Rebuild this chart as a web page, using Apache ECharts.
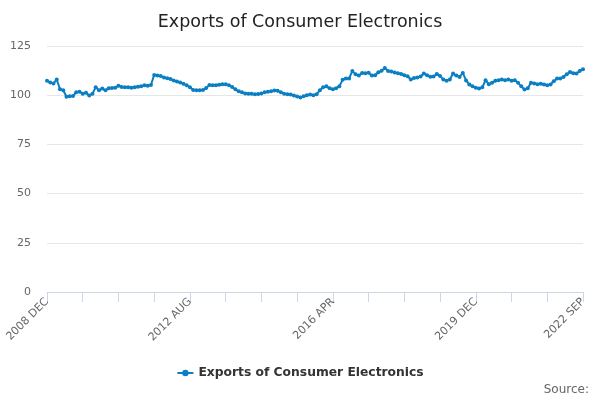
<!DOCTYPE html>
<html>
<head>
<meta charset="utf-8">
<script src="https://cdn.jsdelivr.net/npm/echarts@6/dist/echarts.min.js"></script>
<style>
  html, body { margin: 0; padding: 0; background: #fff; }
  #main { width: 600px; height: 400px; }
</style>
</head>
<body>
<div id="main"></div>
<script>
// 月份缩写，从 2008 DEC 开始逐月生成类目
var monthNames = ['JAN', 'FEB', 'MAR', 'APR', 'MAY', 'JUN', 'JUL', 'AUG', 'SEP', 'OCT', 'NOV', 'DEC'];
var startYear = 2008, startMonth = 11; // 2008 DEC
var exportValues = [
  107.3, 106.5, 106, 108, 103, 102.5, 99.2, 99.5, 99.6, 101.5,
  101.8, 100.8, 101.2, 99.8, 100.8, 104, 102.5, 103.4, 102.5, 103.5,
  103.7, 103.8, 104.8, 104.2, 104, 104, 103.8, 104, 104.3, 104.6,
  105, 104.8, 105.2, 110.3, 110, 109.7, 109, 108.6, 108.2, 107.5,
  107, 106.4, 105.8, 105, 104, 102.6, 102.5, 102.5, 102.6, 103.6,
  105.2, 105.1, 105, 105.3, 105.6, 105.6, 105, 104.2, 103, 102,
  101.5, 100.9, 100.8, 100.8, 100.5, 100.6, 100.9, 101.5, 101.8, 102,
  102.4, 102.2, 101.5, 100.8, 100.5, 100.3, 99.8, 99.3, 98.8, 99.5,
  100, 100.3, 100, 100.5, 102.5, 104, 104.5, 103.5, 103, 103.5,
  104.5, 107.8, 108.5, 108.5, 112.3, 110.6, 110, 111.3, 111.2, 111.4,
  110, 110.2, 111.6, 112.4, 113.8, 112.3, 112, 111.5, 111.2, 110.8,
  110.2, 109.6, 108, 108.8, 109, 109.5, 111, 110.2, 109.4, 109.5,
  110.8, 109.8, 108, 107.3, 108, 111, 110, 109.3, 111.3, 107.5,
  105.5, 104.5, 103.8, 103.4, 104, 107.6, 105.6, 106.3, 107.3, 107.6,
  108, 107.6, 108, 107.4, 107.6, 106.3, 104.5, 102.9, 103.5, 106.3,
  106, 105.6, 105.8, 105.4, 105, 105.5, 107.1, 108.5, 108.5, 109.3,
  110.6, 111.8, 111.2, 111, 112.3, 113.2
];
var yTicks = [0, 25, 50, 75, 100, 125];

var categories = [];
for (var k = 0; k < exportValues.length; k++) {
  var m = startMonth + k;
  categories.push((startYear + Math.floor(m / 12)) + ' ' + monthNames[m % 12]);
}
var lastIndex = categories.length - 1;

var myChart = echarts.init(document.getElementById('main'));
var option = {
  animation: false,
  textStyle: { fontFamily: 'DejaVu Sans' },
  title: {
    text: 'Exports of Consumer Electronics',
    left: 'center',
    top: 8,
    textStyle: { fontSize: 17.5, fontWeight: 'normal', color: '#222222', fontFamily: 'DejaVu Sans' }
  },
  grid: { left: 47, right: 17, top: 46, bottom: 108 },
  legend: {
    bottom: 16,
    left: 'center',
    itemWidth: 16,
    itemHeight: 8,
    data: ['Exports of Consumer Electronics'],
    textStyle: { fontSize: 12.3, fontWeight: 'bold', color: '#333333' }
  },
  graphic: [{
    type: 'text',
    right: 11,
    bottom: 4,
    style: { text: 'Source:', fontSize: 12, fill: '#666666', fontFamily: 'DejaVu Sans' }
  }],
  xAxis: {
    type: 'category',
    data: categories,
    boundaryGap: false,
    axisLine: { lineStyle: { color: '#ccd6eb' } },
    axisTick: { interval: 10, length: 10, lineStyle: { color: '#ccd6eb' } },
    axisLabel: {
      rotate: 45,
      fontSize: 11,
      color: '#666666',
      interval: function (i) { return i % 44 === 0 || i === lastIndex; }
    },
    splitLine: { show: false }
  },
  yAxis: {
    type: 'value',
    min: yTicks[0],
    max: yTicks[yTicks.length - 1],
    interval: 25,
    axisLine: { show: false },
    axisTick: { show: false },
    axisLabel: { fontSize: 11, color: '#666666', margin: 16 },
    splitLine: { lineStyle: { color: '#e6e6e6' } }
  },
  series: [{
    name: 'Exports of Consumer Electronics',
    type: 'line',
    data: exportValues,
    symbol: 'circle',
    symbolSize: 4,
    showAllSymbol: true,
    itemStyle: { color: '#0a7fc2' },
    lineStyle: { width: 2, color: '#0a7fc2' }
  }]
};
myChart.setOption(option);
</script>
</body>
</html>
